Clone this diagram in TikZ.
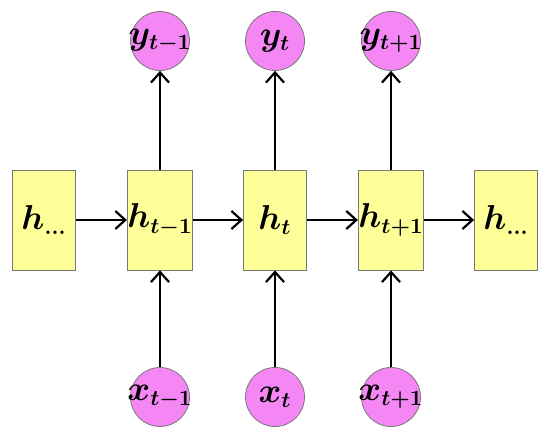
\documentclass[tikz,border=0pt]{standalone}
\usepackage{amsmath}
\usepackage{bm}
\usetikzlibrary{arrows.meta}
\definecolor{boxyellow}{RGB}{255,255,153}
\definecolor{circpink}{RGB}{245,135,245}
\definecolor{edgegray}{RGB}{120,120,120}
\begin{document}
\begin{tikzpicture}[x=0.5pt,y=-0.5pt,
  hbox/.style={draw=edgegray,line width=0.4pt,fill=boxyellow,minimum width=31.5pt,minimum height=50pt,inner sep=0pt,font=\fontsize{16}{18}\selectfont},
  ocirc/.style={draw=edgegray,line width=0.4pt,fill=circpink,circle,minimum size=29.5pt,inner sep=0pt,
    label={[inner sep=0pt,font=\fontsize{16}{18}\selectfont]center:#1}},
  conn/.style={line width=1.1pt,-{Straight Barb[length=5pt,width=9pt,line width=1.1pt]}}]
\useasboundingbox (0,0) rectangle (550,438);
\node[hbox] (h0) at (44,220) {$\bm{h}_{\bm{...}}$};
\node[hbox] (h1) at (160,220) {$\bm{h}_{\bm{t-1}}$};
\node[hbox] (h2) at (275,220) {$\bm{h}_{\bm{t}}$};
\node[hbox] (h3) at (391,220) {$\bm{h}_{\bm{t+1}}$};
\node[hbox] (h4) at (506,220) {$\bm{h}_{\bm{...}}$};
\node[ocirc={$\bm{y}_{\bm{t-1}}$}] (y1) at (160,41) {};
\node[ocirc={$\bm{y}_{\bm{t}}$}] (y2) at (275,41) {};
\node[ocirc={$\bm{y}_{\bm{t+1}}$}] (y3) at (391,41) {};
\node[ocirc={$\bm{x}_{\bm{t-1}}$}] (x1) at (160,397) {};
\node[ocirc={$\bm{x}_{\bm{t}}$}] (x2) at (275,397) {};
\node[ocirc={$\bm{x}_{\bm{t+1}}$}] (x3) at (391,397) {};
\draw[conn] (h0) -- (h1);
\draw[conn] (h1) -- (h2);
\draw[conn] (h2) -- (h3);
\draw[conn] (h3) -- (h4);
\draw[conn] (h1) -- (y1);
\draw[conn] (h2) -- (y2);
\draw[conn] (h3) -- (y3);
\draw[conn] (x1) -- (h1);
\draw[conn] (x2) -- (h2);
\draw[conn] (x3) -- (h3);
\end{tikzpicture}
\end{document}
